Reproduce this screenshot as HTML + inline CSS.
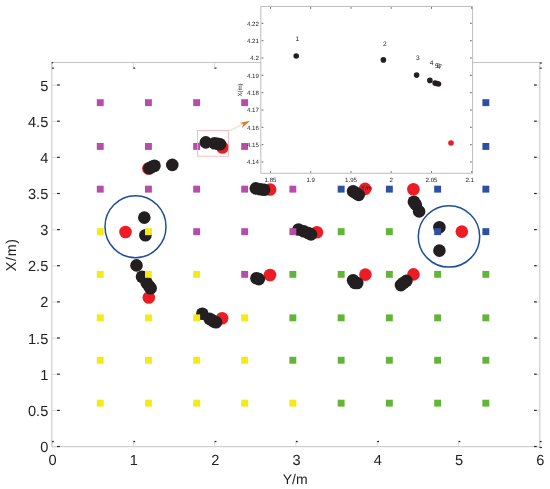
<!DOCTYPE html><html><head><meta charset="utf-8"><title>plot</title><style>html,body{margin:0;padding:0;background:#fff}body{width:550px;height:489px;overflow:hidden}</style></head><body><svg width="550" height="489" viewBox="0 0 550 489" style="display:block;text-rendering:geometricPrecision;font-family:'Liberation Sans',Arial,sans-serif">
<rect width="550" height="489" fill="#fff"/>
<g fill="none" stroke="#bdbdbd" stroke-width="0.9">
<path d="M51.8 62.5H539.8V446.7H51.8Z"/>
</g>
<path d="M52.0 446.7h5.5" stroke="#d2d2d2" stroke-width="0.8"/><rect x="57.1" y="445.9" width="2.8" height="1.2" fill="#222"/><path d="M539.8 446.7h-5" stroke="#d2d2d2" stroke-width="0.8"/><rect x="534.1" y="445.9" width="2.6" height="1.2" fill="#222"/><path d="M52.0 410.6h5.5" stroke="#d2d2d2" stroke-width="0.8"/><rect x="57.1" y="409.8" width="2.8" height="1.2" fill="#222"/><path d="M539.8 410.6h-5" stroke="#d2d2d2" stroke-width="0.8"/><rect x="534.1" y="409.8" width="2.6" height="1.2" fill="#222"/><path d="M52.0 374.4h5.5" stroke="#d2d2d2" stroke-width="0.8"/><rect x="57.1" y="373.6" width="2.8" height="1.2" fill="#222"/><path d="M539.8 374.4h-5" stroke="#d2d2d2" stroke-width="0.8"/><rect x="534.1" y="373.6" width="2.6" height="1.2" fill="#222"/><path d="M52.0 338.2h5.5" stroke="#d2d2d2" stroke-width="0.8"/><rect x="57.1" y="337.4" width="2.8" height="1.2" fill="#222"/><path d="M539.8 338.2h-5" stroke="#d2d2d2" stroke-width="0.8"/><rect x="534.1" y="337.4" width="2.6" height="1.2" fill="#222"/><path d="M52.0 302.1h5.5" stroke="#d2d2d2" stroke-width="0.8"/><rect x="57.1" y="301.3" width="2.8" height="1.2" fill="#222"/><path d="M539.8 302.1h-5" stroke="#d2d2d2" stroke-width="0.8"/><rect x="534.1" y="301.3" width="2.6" height="1.2" fill="#222"/><path d="M52.0 265.9h5.5" stroke="#d2d2d2" stroke-width="0.8"/><rect x="57.1" y="265.1" width="2.8" height="1.2" fill="#222"/><path d="M539.8 265.9h-5" stroke="#d2d2d2" stroke-width="0.8"/><rect x="534.1" y="265.1" width="2.6" height="1.2" fill="#222"/><path d="M52.0 229.8h5.5" stroke="#d2d2d2" stroke-width="0.8"/><rect x="57.1" y="229.0" width="2.8" height="1.2" fill="#222"/><path d="M539.8 229.8h-5" stroke="#d2d2d2" stroke-width="0.8"/><rect x="534.1" y="229.0" width="2.6" height="1.2" fill="#222"/><path d="M52.0 193.7h5.5" stroke="#d2d2d2" stroke-width="0.8"/><rect x="57.1" y="192.9" width="2.8" height="1.2" fill="#222"/><path d="M539.8 193.7h-5" stroke="#d2d2d2" stroke-width="0.8"/><rect x="534.1" y="192.9" width="2.6" height="1.2" fill="#222"/><path d="M52.0 157.5h5.5" stroke="#d2d2d2" stroke-width="0.8"/><rect x="57.1" y="156.7" width="2.8" height="1.2" fill="#222"/><path d="M539.8 157.5h-5" stroke="#d2d2d2" stroke-width="0.8"/><rect x="534.1" y="156.7" width="2.6" height="1.2" fill="#222"/><path d="M52.0 121.4h5.5" stroke="#d2d2d2" stroke-width="0.8"/><rect x="57.1" y="120.6" width="2.8" height="1.2" fill="#222"/><path d="M539.8 121.4h-5" stroke="#d2d2d2" stroke-width="0.8"/><rect x="534.1" y="120.6" width="2.6" height="1.2" fill="#222"/><path d="M52.0 85.2h5.5" stroke="#d2d2d2" stroke-width="0.8"/><rect x="57.1" y="84.4" width="2.8" height="1.2" fill="#222"/><path d="M539.8 85.2h-5" stroke="#d2d2d2" stroke-width="0.8"/><rect x="534.1" y="84.4" width="2.6" height="1.2" fill="#222"/><path d="M52.0 446.7v-5" stroke="#d2d2d2" stroke-width="0.8"/><rect x="52.0" y="440.9" width="1.8" height="1.3" fill="#222"/><path d="M52.0 62.5v5" stroke="#d2d2d2" stroke-width="0.8"/><rect x="51.9" y="67.5" width="2.0" height="1.2" fill="#222"/><path d="M133.3 446.7v-5" stroke="#d2d2d2" stroke-width="0.8"/><rect x="133.3" y="440.9" width="1.8" height="1.3" fill="#222"/><path d="M133.3 62.5v5" stroke="#d2d2d2" stroke-width="0.8"/><rect x="133.2" y="67.5" width="2.0" height="1.2" fill="#222"/><path d="M214.6 446.7v-5" stroke="#d2d2d2" stroke-width="0.8"/><rect x="214.6" y="440.9" width="1.8" height="1.3" fill="#222"/><path d="M214.6 62.5v5" stroke="#d2d2d2" stroke-width="0.8"/><rect x="214.5" y="67.5" width="2.0" height="1.2" fill="#222"/><path d="M295.9 446.7v-5" stroke="#d2d2d2" stroke-width="0.8"/><rect x="295.9" y="440.9" width="1.8" height="1.3" fill="#222"/><path d="M295.9 62.5v5" stroke="#d2d2d2" stroke-width="0.8"/><rect x="295.8" y="67.5" width="2.0" height="1.2" fill="#222"/><path d="M377.2 446.7v-5" stroke="#d2d2d2" stroke-width="0.8"/><rect x="377.2" y="440.9" width="1.8" height="1.3" fill="#222"/><path d="M377.2 62.5v5" stroke="#d2d2d2" stroke-width="0.8"/><rect x="377.1" y="67.5" width="2.0" height="1.2" fill="#222"/><path d="M458.5 446.7v-5" stroke="#d2d2d2" stroke-width="0.8"/><rect x="458.5" y="440.9" width="1.8" height="1.3" fill="#222"/><path d="M458.5 62.5v5" stroke="#d2d2d2" stroke-width="0.8"/><rect x="458.4" y="67.5" width="2.0" height="1.2" fill="#222"/><path d="M539.8 446.7v-5" stroke="#d2d2d2" stroke-width="0.8"/><rect x="539.8" y="440.9" width="1.8" height="1.3" fill="#222"/><path d="M539.8 62.5v5" stroke="#d2d2d2" stroke-width="0.8"/><rect x="539.7" y="67.5" width="2.0" height="1.2" fill="#222"/><rect x="51.6" y="62.1" width="1.6" height="1.2" fill="#222"/><rect x="539.8" y="62.4" width="2" height="1.2" fill="#222"/><rect x="539.5" y="446.9" width="2.4" height="1.2" fill="#222"/>
<circle cx="222.4" cy="147.5" r="6.3" fill="#ed1c24"/>
<circle cx="148.4" cy="168.5" r="6.3" fill="#ed1c24"/>
<circle cx="125.5" cy="232" r="6.3" fill="#ed1c24"/>
<circle cx="148.8" cy="297.5" r="6.3" fill="#ed1c24"/>
<circle cx="222.1" cy="318.3" r="6.3" fill="#ed1c24"/>
<circle cx="270.1" cy="189.5" r="6.3" fill="#ed1c24"/>
<circle cx="316.9" cy="232.2" r="6.3" fill="#ed1c24"/>
<circle cx="270" cy="275" r="6.3" fill="#ed1c24"/>
<circle cx="365.1" cy="188.9" r="6.3" fill="#ed1c24"/>
<circle cx="413.4" cy="189.3" r="6.3" fill="#ed1c24"/>
<circle cx="461.8" cy="231.6" r="6.3" fill="#ed1c24"/>
<circle cx="365.4" cy="274.6" r="6.3" fill="#ed1c24"/>
<circle cx="413.5" cy="274.4" r="6.3" fill="#ed1c24"/>
<circle cx="205.8" cy="142.4" r="6.3" fill="#231f20"/>
<circle cx="214.5" cy="143.3" r="6.3" fill="#231f20"/>
<circle cx="217.8" cy="143.8" r="6.3" fill="#231f20"/>
<circle cx="220" cy="144.3" r="6.3" fill="#231f20"/>
<circle cx="149.4" cy="168.2" r="6.3" fill="#231f20"/>
<circle cx="152" cy="166.9" r="6.3" fill="#231f20"/>
<circle cx="154.5" cy="165.8" r="6.3" fill="#231f20"/>
<circle cx="172.3" cy="164.9" r="6.3" fill="#231f20"/>
<circle cx="144.3" cy="217.6" r="6.3" fill="#231f20"/>
<circle cx="145.4" cy="235.3" r="6.3" fill="#231f20"/>
<circle cx="136.5" cy="265.4" r="6.3" fill="#231f20"/>
<circle cx="142" cy="276.7" r="6.3" fill="#231f20"/>
<circle cx="146.6" cy="282.8" r="6.3" fill="#231f20"/>
<circle cx="149.3" cy="286.4" r="6.3" fill="#231f20"/>
<circle cx="150.6" cy="288.3" r="6.3" fill="#231f20"/>
<circle cx="202.3" cy="313.7" r="6.3" fill="#231f20"/>
<circle cx="209.6" cy="318.8" r="6.3" fill="#231f20"/>
<circle cx="212.5" cy="320.6" r="6.3" fill="#231f20"/>
<circle cx="214.2" cy="321.6" r="6.3" fill="#231f20"/>
<circle cx="216" cy="322.2" r="6.3" fill="#231f20"/>
<circle cx="255.8" cy="188.4" r="6.3" fill="#231f20"/>
<circle cx="260.4" cy="189.3" r="6.3" fill="#231f20"/>
<circle cx="264.1" cy="189.7" r="6.3" fill="#231f20"/>
<circle cx="298.5" cy="229.5" r="6.3" fill="#231f20"/>
<circle cx="303.7" cy="231.3" r="6.3" fill="#231f20"/>
<circle cx="308.3" cy="233.1" r="6.3" fill="#231f20"/>
<circle cx="311" cy="234.4" r="6.3" fill="#231f20"/>
<circle cx="256.5" cy="278.3" r="6.3" fill="#231f20"/>
<circle cx="258.9" cy="279.1" r="6.3" fill="#231f20"/>
<circle cx="353.1" cy="191.2" r="6.3" fill="#231f20"/>
<circle cx="355.9" cy="193" r="6.3" fill="#231f20"/>
<circle cx="358.7" cy="194.9" r="6.3" fill="#231f20"/>
<circle cx="413.9" cy="201.8" r="6.3" fill="#231f20"/>
<circle cx="415.8" cy="204.6" r="6.3" fill="#231f20"/>
<circle cx="419.1" cy="211.4" r="6.3" fill="#231f20"/>
<circle cx="439.4" cy="227.2" r="6.3" fill="#231f20"/>
<circle cx="439.4" cy="250.6" r="6.3" fill="#231f20"/>
<circle cx="353.1" cy="280.3" r="6.3" fill="#231f20"/>
<circle cx="354.8" cy="282.9" r="6.3" fill="#231f20"/>
<circle cx="357.2" cy="283" r="6.3" fill="#231f20"/>
<circle cx="400.9" cy="285.1" r="6.3" fill="#231f20"/>
<circle cx="403.7" cy="282.7" r="6.3" fill="#231f20"/>
<circle cx="406.4" cy="280.9" r="6.3" fill="#231f20"/>
<rect x="96.8" y="99.2" width="6.9" height="6.9" fill="#b84bac"/>
<rect x="145.0" y="99.2" width="6.9" height="6.9" fill="#b84bac"/>
<rect x="193.2" y="99.2" width="6.9" height="6.9" fill="#b84bac"/>
<rect x="241.2" y="99.2" width="6.9" height="6.9" fill="#b84bac"/>
<rect x="482.4" y="99.2" width="6.9" height="6.9" fill="#2f4fa3"/>
<rect x="96.8" y="143.0" width="6.9" height="6.9" fill="#b84bac"/>
<rect x="145.0" y="143.0" width="6.9" height="6.9" fill="#b84bac"/>
<rect x="193.2" y="143.0" width="6.9" height="6.9" fill="#b84bac"/>
<rect x="241.2" y="143.0" width="6.9" height="6.9" fill="#b84bac"/>
<rect x="482.4" y="143.0" width="6.9" height="6.9" fill="#2f4fa3"/>
<rect x="96.8" y="185.7" width="6.9" height="6.9" fill="#b84bac"/>
<rect x="145.0" y="185.7" width="6.9" height="6.9" fill="#b84bac"/>
<rect x="193.2" y="185.7" width="6.9" height="6.9" fill="#b84bac"/>
<rect x="241.2" y="185.7" width="6.9" height="6.9" fill="#b84bac"/>
<rect x="289.4" y="185.7" width="6.9" height="6.9" fill="#b84bac"/>
<rect x="337.7" y="185.7" width="6.9" height="6.9" fill="#2f4fa3"/>
<rect x="385.9" y="185.7" width="6.9" height="6.9" fill="#2f4fa3"/>
<rect x="434.2" y="185.7" width="6.9" height="6.9" fill="#2f4fa3"/>
<rect x="482.4" y="185.7" width="6.9" height="6.9" fill="#2f4fa3"/>
<rect x="96.8" y="228.2" width="6.9" height="6.9" fill="#f5ea14"/>
<rect x="145.0" y="228.2" width="6.9" height="6.9" fill="#f5ea14"/>
<rect x="193.2" y="228.2" width="6.9" height="6.9" fill="#b84bac"/>
<rect x="241.2" y="228.2" width="6.9" height="6.9" fill="#b84bac"/>
<rect x="289.4" y="228.2" width="6.9" height="6.9" fill="#b84bac"/>
<rect x="337.7" y="228.2" width="6.9" height="6.9" fill="#62b536"/>
<rect x="385.9" y="228.2" width="6.9" height="6.9" fill="#62b536"/>
<rect x="434.2" y="228.2" width="6.9" height="6.9" fill="#2f4fa3"/>
<rect x="482.4" y="228.2" width="6.9" height="6.9" fill="#2f4fa3"/>
<rect x="96.8" y="270.9" width="6.9" height="6.9" fill="#f5ea14"/>
<rect x="145.0" y="270.9" width="6.9" height="6.9" fill="#f5ea14"/>
<rect x="193.2" y="270.9" width="6.9" height="6.9" fill="#f5ea14"/>
<rect x="241.2" y="270.9" width="6.9" height="6.9" fill="#b84bac"/>
<rect x="289.4" y="270.9" width="6.9" height="6.9" fill="#62b536"/>
<rect x="337.7" y="270.9" width="6.9" height="6.9" fill="#62b536"/>
<rect x="385.9" y="270.9" width="6.9" height="6.9" fill="#62b536"/>
<rect x="434.2" y="270.9" width="6.9" height="6.9" fill="#62b536"/>
<rect x="482.4" y="270.9" width="6.9" height="6.9" fill="#62b536"/>
<rect x="96.8" y="314.4" width="6.9" height="6.9" fill="#f5ea14"/>
<rect x="145.0" y="314.4" width="6.9" height="6.9" fill="#f5ea14"/>
<rect x="193.2" y="314.4" width="6.9" height="6.9" fill="#f5ea14"/>
<rect x="241.2" y="314.4" width="6.9" height="6.9" fill="#f5ea14"/>
<rect x="289.4" y="314.4" width="6.9" height="6.9" fill="#62b536"/>
<rect x="337.7" y="314.4" width="6.9" height="6.9" fill="#62b536"/>
<rect x="385.9" y="314.4" width="6.9" height="6.9" fill="#62b536"/>
<rect x="434.2" y="314.4" width="6.9" height="6.9" fill="#62b536"/>
<rect x="482.4" y="314.4" width="6.9" height="6.9" fill="#62b536"/>
<rect x="96.8" y="356.8" width="6.9" height="6.9" fill="#f5ea14"/>
<rect x="145.0" y="356.8" width="6.9" height="6.9" fill="#f5ea14"/>
<rect x="193.2" y="356.8" width="6.9" height="6.9" fill="#f5ea14"/>
<rect x="241.2" y="356.8" width="6.9" height="6.9" fill="#f5ea14"/>
<rect x="289.4" y="356.8" width="6.9" height="6.9" fill="#62b536"/>
<rect x="337.7" y="356.8" width="6.9" height="6.9" fill="#62b536"/>
<rect x="385.9" y="356.8" width="6.9" height="6.9" fill="#62b536"/>
<rect x="434.2" y="356.8" width="6.9" height="6.9" fill="#62b536"/>
<rect x="482.4" y="356.8" width="6.9" height="6.9" fill="#62b536"/>
<rect x="96.8" y="399.7" width="6.9" height="6.9" fill="#f5ea14"/>
<rect x="145.0" y="399.7" width="6.9" height="6.9" fill="#f5ea14"/>
<rect x="193.2" y="399.7" width="6.9" height="6.9" fill="#f5ea14"/>
<rect x="241.2" y="399.7" width="6.9" height="6.9" fill="#f5ea14"/>
<rect x="289.4" y="399.7" width="6.9" height="6.9" fill="#f5ea14"/>
<rect x="337.7" y="399.7" width="6.9" height="6.9" fill="#62b536"/>
<rect x="385.9" y="399.7" width="6.9" height="6.9" fill="#62b536"/>
<rect x="434.2" y="399.7" width="6.9" height="6.9" fill="#62b536"/>
<rect x="482.4" y="399.7" width="6.9" height="6.9" fill="#62b536"/>
<ellipse cx="135.5" cy="226.7" rx="30.5" ry="31" fill="none" stroke="#1d4f9c" stroke-width="1.5"/>
<ellipse cx="449" cy="236.4" rx="30.7" ry="30.7" fill="none" stroke="#1d4f9c" stroke-width="1.5"/>
<rect x="197.5" y="130.4" width="30.9" height="25.8" fill="none" stroke="#f6b0b4" stroke-width="0.8"/>
<path d="M230.1 130.6L243.2 123.8" stroke="#f3c79c" stroke-width="0.8" fill="none"/>
<path d="M250.3 120.7L239.5 122.9L243.4 123.9L241.6 128.3Z" fill="#dd7a1e"/>
<text x="48.3" y="452.0" font-size="14.6" text-anchor="end" fill="#222">0</text>
<text x="48.3" y="415.9" font-size="14.6" text-anchor="end" fill="#222">0.5</text>
<text x="48.3" y="379.7" font-size="14.6" text-anchor="end" fill="#222">1</text>
<text x="48.3" y="343.6" font-size="14.6" text-anchor="end" fill="#222">1.5</text>
<text x="48.3" y="307.4" font-size="14.6" text-anchor="end" fill="#222">2</text>
<text x="48.3" y="271.2" font-size="14.6" text-anchor="end" fill="#222">2.5</text>
<text x="48.3" y="235.1" font-size="14.6" text-anchor="end" fill="#222">3</text>
<text x="48.3" y="199.0" font-size="14.6" text-anchor="end" fill="#222">3.5</text>
<text x="48.3" y="162.8" font-size="14.6" text-anchor="end" fill="#222">4</text>
<text x="48.3" y="126.7" font-size="14.6" text-anchor="end" fill="#222">4.5</text>
<text x="48.3" y="90.5" font-size="14.6" text-anchor="end" fill="#222">5</text>
<text x="52.6" y="464.6" font-size="14.6" text-anchor="middle" fill="#222">0</text>
<text x="133.9" y="464.6" font-size="14.6" text-anchor="middle" fill="#222">1</text>
<text x="215.2" y="464.6" font-size="14.6" text-anchor="middle" fill="#222">2</text>
<text x="296.5" y="464.6" font-size="14.6" text-anchor="middle" fill="#222">3</text>
<text x="377.8" y="464.6" font-size="14.6" text-anchor="middle" fill="#222">4</text>
<text x="459.1" y="464.6" font-size="14.6" text-anchor="middle" fill="#222">5</text>
<text x="540.4" y="464.6" font-size="14.6" text-anchor="middle" fill="#222">6</text>
<text x="295.2" y="484" font-size="14" text-anchor="middle" fill="#222">Y/m</text>
<text transform="translate(15.8 254.7) rotate(-90)" font-size="14.3" letter-spacing="0.75" text-anchor="middle" fill="#222">X/m)</text>
<rect x="260.8" y="6.5" width="211.8" height="166.8" fill="#fff" stroke="#bdbdbd" stroke-width="1"/>
<path d="M270.5 172.70000000000002v-1.7" stroke="#444" stroke-width="0.8"/><path d="M270.5 7.1v1.7" stroke="#444" stroke-width="0.8"/>
<text x="270.5" y="181.5" font-size="6.1" text-anchor="middle" fill="#222">1.85</text>
<path d="M310.7 172.70000000000002v-1.7" stroke="#444" stroke-width="0.8"/><path d="M310.7 7.1v1.7" stroke="#444" stroke-width="0.8"/>
<text x="310.7" y="181.5" font-size="6.1" text-anchor="middle" fill="#222">1.9</text>
<path d="M351.0 172.70000000000002v-1.7" stroke="#444" stroke-width="0.8"/><path d="M351.0 7.1v1.7" stroke="#444" stroke-width="0.8"/>
<text x="351.0" y="181.5" font-size="6.1" text-anchor="middle" fill="#222">1.95</text>
<path d="M391.2 172.70000000000002v-1.7" stroke="#444" stroke-width="0.8"/><path d="M391.2 7.1v1.7" stroke="#444" stroke-width="0.8"/>
<text x="391.2" y="181.5" font-size="6.1" text-anchor="middle" fill="#222">2</text>
<path d="M431.5 172.70000000000002v-1.7" stroke="#444" stroke-width="0.8"/><path d="M431.5 7.1v1.7" stroke="#444" stroke-width="0.8"/>
<text x="431.5" y="181.5" font-size="6.1" text-anchor="middle" fill="#222">2.05</text>
<path d="M471.7 172.70000000000002v-1.7" stroke="#444" stroke-width="0.8"/><path d="M471.7 7.1v1.7" stroke="#444" stroke-width="0.8"/>
<text x="469.7" y="181.5" font-size="6.1" text-anchor="middle" fill="#222">2.1</text>
<path d="M261.6 162.0h1.8" stroke="#444" stroke-width="0.8"/><path d="M471.8 162.0h-1.8" stroke="#444" stroke-width="0.8"/>
<text x="258.8" y="164.2" font-size="6.1" text-anchor="end" fill="#222">4.14</text>
<path d="M261.6 144.7h1.8" stroke="#444" stroke-width="0.8"/><path d="M471.8 144.7h-1.8" stroke="#444" stroke-width="0.8"/>
<text x="258.8" y="146.9" font-size="6.1" text-anchor="end" fill="#222">4.15</text>
<path d="M261.6 127.3h1.8" stroke="#444" stroke-width="0.8"/><path d="M471.8 127.3h-1.8" stroke="#444" stroke-width="0.8"/>
<text x="258.8" y="129.5" font-size="6.1" text-anchor="end" fill="#222">4.16</text>
<path d="M261.6 110.0h1.8" stroke="#444" stroke-width="0.8"/><path d="M471.8 110.0h-1.8" stroke="#444" stroke-width="0.8"/>
<text x="258.8" y="112.2" font-size="6.1" text-anchor="end" fill="#222">4.17</text>
<path d="M261.6 92.7h1.8" stroke="#444" stroke-width="0.8"/><path d="M471.8 92.7h-1.8" stroke="#444" stroke-width="0.8"/>
<text x="258.8" y="94.9" font-size="6.1" text-anchor="end" fill="#222">4.18</text>
<path d="M261.6 75.3h1.8" stroke="#444" stroke-width="0.8"/><path d="M471.8 75.3h-1.8" stroke="#444" stroke-width="0.8"/>
<text x="258.8" y="77.5" font-size="6.1" text-anchor="end" fill="#222">4.19</text>
<path d="M261.6 58.0h1.8" stroke="#444" stroke-width="0.8"/><path d="M471.8 58.0h-1.8" stroke="#444" stroke-width="0.8"/>
<text x="258.8" y="60.2" font-size="6.1" text-anchor="end" fill="#222">4.2</text>
<path d="M261.6 40.7h1.8" stroke="#444" stroke-width="0.8"/><path d="M471.8 40.7h-1.8" stroke="#444" stroke-width="0.8"/>
<text x="258.8" y="42.9" font-size="6.1" text-anchor="end" fill="#222">4.21</text>
<path d="M261.6 23.3h1.8" stroke="#444" stroke-width="0.8"/><path d="M471.8 23.3h-1.8" stroke="#444" stroke-width="0.8"/>
<text x="258.8" y="25.5" font-size="6.1" text-anchor="end" fill="#222">4.22</text>
<text transform="translate(241.5 90) rotate(-90)" font-size="6.1" text-anchor="middle" fill="#222">X(m)</text>
<text x="366.5" y="190" font-size="6.1" text-anchor="middle" fill="#222">Y/m</text>
<circle cx="296.2" cy="56" r="2.8" fill="#231f20"/>
<text x="297.4" y="40.8" font-size="6.6" text-anchor="middle" fill="#222">1</text>
<circle cx="383.4" cy="59.9" r="2.8" fill="#231f20"/>
<text x="384.8" y="45.5" font-size="6.6" text-anchor="middle" fill="#222">2</text>
<circle cx="416.6" cy="75.1" r="2.8" fill="#231f20"/>
<text x="417.9" y="60" font-size="6.6" text-anchor="middle" fill="#222">3</text>
<circle cx="429.9" cy="80.4" r="2.8" fill="#231f20"/>
<text x="431.5" y="65.4" font-size="6.6" text-anchor="middle" fill="#222">4</text>
<circle cx="435.1" cy="83.1" r="2.8" fill="#231f20"/>
<text x="436.9" y="67.8" font-size="6.6" text-anchor="middle" fill="#222">5</text>
<circle cx="436.9" cy="83.5" r="2.8" fill="#231f20"/>
<text x="438.6" y="68.2" font-size="6.6" text-anchor="middle" fill="#222">6</text>
<circle cx="438.5" cy="84" r="2.8" fill="#231f20"/>
<text x="440.1" y="68.6" font-size="6.6" text-anchor="middle" fill="#222">7</text>
<circle cx="451" cy="143" r="2.8" fill="#ed1c24"/>
</svg></body></html>
